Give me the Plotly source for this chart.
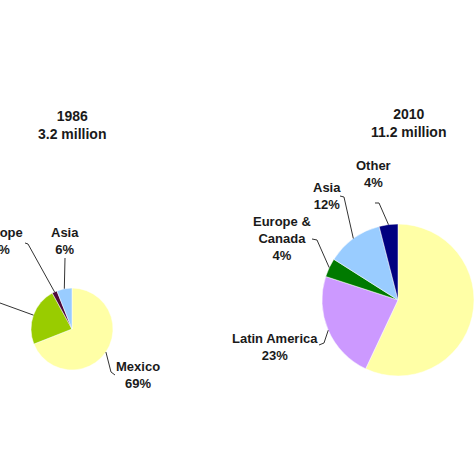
import math
import plotly.graph_objects as go

# data
years = ['1986', '2010']
totals = ['3.2 million', '11.2 million']

regions_1986 = ['Mexico', 'Latin America', 'Europe', 'Asia']
shares_1986 = [69, 23, 2, 6]
colors_1986 = ['#FFFFA6', '#99CC00', '#4D0A3A', '#99CCFF']

regions_2010 = ['Mexico', 'Latin America', 'Europe &<br>Canada', 'Asia', 'Other']
shares_2010 = [57, 23, 4, 12, 4]
colors_2010 = ['#FFFFA6', '#CC99FF', '#007A00', '#99CCFF', '#000080']

W = H = 474
pies = [(72, 329, 41), (398, 300, 76)]  # centre x, centre y, radius in px


def px(x, y):
    # pixel position -> paper coords
    return x / W, 1 - y / H


def dom(cx, cy, r):
    return dict(x=[max(0, (cx - r) / W), min(1, (cx + r) / W)],
                y=[max(0, 1 - (cy + r) / H), min(1, 1 - (cy - r) / H)])


def edge_points(vals, cx, cy, r):
    # point on the rim at the middle of each slice (clockwise from 12 o'clock)
    tot = float(sum(vals))
    out, acc = [], 0.0
    for v in vals:
        a = 2 * math.pi * (acc + v / 2.0) / tot
        out.append((cx + r * math.sin(a), cy - r * math.cos(a)))
        acc += v
    return out


fig = go.Figure()
for (names, vals, cols), (cx, cy, r) in zip(
        [(regions_1986, shares_1986, colors_1986), (regions_2010, shares_2010, colors_2010)], pies):
    fig.add_trace(go.Pie(labels=names, values=vals, sort=False,
                         direction='clockwise', rotation=0, textinfo='none',
                         marker=dict(colors=cols, line=dict(color='#ffffff', width=0.5)),
                         domain=dom(cx, cy, r), showlegend=False, hoverinfo='label+percent'))

font_lbl = dict(family='Arial', size=13, color='#1a1a1a')
font_ttl = dict(family='Arial', size=14, color='#1a1a1a')

annots = []
# titles
for (x, y), yr, tot in zip([(72, 125), (408, 123)], years, totals):
    ax_, ay_ = px(x, y)
    annots.append(dict(x=ax_, y=ay_, xref='paper', yref='paper', showarrow=False,
                       text='<b>%s<br>%s</b>' % (yr, tot), font=font_ttl,
                       xanchor='center', yanchor='middle'))

# slice labels and the label end of each leader line
pos_1986 = [(138, 375), (-58, 300), (0, 241), (65, 241)]
tail_1986 = [[(115, 375), (111, 372)], [(0, 303)], [(25, 243), (28, 244)], [(65, 258)]]
pos_2010 = [(None, None), (275, 347), (282, 239), (327, 196), (373, 174)]
tail_2010 = [None, [(319, 345), (324, 343)], [(312, 239), (317, 240)],
             [(340, 196), (344, 197)], [(375, 203), (379, 203)]]

shapes = []
for names, vals, pos, tails, (cx, cy, r) in [
        (regions_1986, shares_1986, pos_1986, tail_1986, pies[0]),
        (regions_2010, shares_2010, pos_2010, tail_2010, pies[1])]:
    rims = edge_points(vals, cx, cy, r)
    for n, v, (x, y), tail, rim in zip(names, vals, pos, tails, rims):
        if x is None:
            continue
        ax_, ay_ = px(x, y)
        annots.append(dict(x=ax_, y=ay_, xref='paper', yref='paper', showarrow=False,
                           text='<b>%s<br>%d%%</b>' % (n, v), font=font_lbl,
                           xanchor='center', yanchor='middle'))
        p = ' L '.join('%f,%f' % px(*q) for q in tail + [rim])
        shapes.append(dict(type='path', xref='paper', yref='paper', path='M ' + p,
                           line=dict(color='#333333', width=1)))

fig.update_layout(width=W, height=H, margin=dict(l=0, r=0, t=0, b=0),
                  paper_bgcolor='white', plot_bgcolor='white',
                  annotations=annots, shapes=shapes)
# drop the page's default body margin so the chart sits at the window corner
fig.write_html("out.html", config={'displayModeBar': False},
               post_script="document.body.style.margin='0';")
